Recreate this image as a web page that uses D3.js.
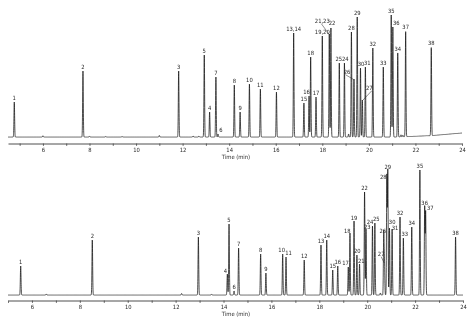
<!DOCTYPE html>
<html><head><meta charset="utf-8">
<script src="https://cdn.jsdelivr.net/npm/d3@7"></script>
<style>
html,body{margin:0;padding:0;background:#fff;}
svg{display:block;will-change:transform;}
text{font-family:"Liberation Sans Narrow","DejaVu Sans Condensed","Arial Narrow",sans-serif;fill:#2a2a2a;}
.labels{opacity:0.995;}
</style></head><body>
<svg id="chart" width="474" height="322"></svg>
<script>
// ---- Upper chromatogram ----
const topLabels  = ["1","2","3","5","4","7","6","8","9","10","11","12","13,14","15","16","18","17","19,20","21,23","22","25","24","28","26","29","30","27","31","32","33","35","36","34","37","38"];
const topTimes   = [4.77,7.72,11.83,12.93,13.16,13.43,13.52,14.22,14.47,14.87,15.34,16.03,16.77,17.21,17.43,17.50,17.73,18.00,18.30,18.37,18.73,18.95,19.25,19.36,19.50,19.64,19.72,19.85,20.17,20.62,20.96,21.03,21.24,21.58,22.68];
const topHeights = [35,66,66,82,25,60,3,52,25,53,48,45,104,34,41,80,40,101,103,109,74,74,105,58,120,69,37,70,89,70,122,110,84,105,88];
const topMinorTimes   = [6.0,8.0,8.7,9.4,11.0,12.45,12.7,19.13,21.38,21.46];
const topMinorHeights = [1.2,0.8,0.5,0.5,1.5,1.0,0.8,3,2,1.5];
const topBaseTimes  = [4.5,21.2,22.7,24];
const topBaseLevels = [0,0,1.4,4];

// ---- Lower chromatogram ----
const botLabels  = ["1","2","3","4","5","6","7","8","9","10","11","12","13","14","15","16","17","18","19","20","21","22","23","24","25","26","27","28","29","30","31","32","33","34","35","36","37","38"];
const botTimes   = [5.53,8.52,12.95,14.16,14.23,14.44,14.63,15.55,15.77,16.47,16.61,17.37,18.07,18.31,18.56,18.77,19.21,19.28,19.45,19.57,19.68,19.89,19.95,20.22,20.32,20.69,20.72,20.82,20.86,20.93,21.04,21.37,21.51,21.86,22.20,22.40,22.44,23.69];
const botHeights = [29,55,58,21,71,4,47,41,22,41,38,35,50,55,25,29,28,62,74,40,31,103,66,69,72,61,32,119,124,67,66,78,57,68,125,88,83,58];
const botMinorTimes   = [6.6,12.25,13.5,20.55];
const botMinorHeights = [1,1.5,0.8,2];
const botBaseTimes  = [5,24];
const botBaseLevels = [0,0];

// Axis ticks (minutes)
const tickMinutes = [5,6,7,8,9,10,11,12,13,14,15,16,17,18,19,20,21,22,23,24];
const tickLabelled = [6,8,10,12,14,16,18,20,22,24];
const axisTitle = "Time (min)";

// Label nudges and leader lines (layout only)
const topNudge = {"6":[3,0],"16":[-2.5,0],"21,23":[-7,-9],"22":[1.2,-1],"25":[-0.6,0],"24":[0.8,0],"26":[-7,-3],"27":[7,-8],"30":[0.5,0],"31":[2,0],"36":[3.5,0]};
const topLeaders = {"21,23":[[-3,1.5],[0,0]],"26":[[-3.5,-4],[-0.3,0]],"27":[[4.5,-8],[0.2,0]]};
const botNudge = {"4":[-2,1],"10":[-1,0],"11":[2.5,0],"17":[-2.8,0],"18":[-2.7,2.5],"19":[0,1],"20":[0.3,0],"21":[1.8,1],"23":[1.2,1.8],"24":[-2.4,0],"25":[1.4,0],"26":[-1,1],"27":[-3.3,-5],"28":[-3.5,5],"30":[2.7,-2],"31":[3,3.7],"33":[1.4,0],"37":[4.6,0]};
const botLeaders = {"27":[[-2,-3],[0,0]]};

const svg = d3.select("#chart");
const sigma = 0.014;

function drawPanel(cfg){
  const x = d3.scaleLinear().domain(cfg.domain).range([8, cfg.xEnd]);
  const y = d3.scaleLinear().domain([0,125]).range([cfg.base, cfg.base-125]);
  const baseline = d3.scaleLinear().domain(cfg.baseT).range(cfg.baseL);
  const peaks = cfg.times.map((t,i)=>({t, h:cfg.heights[i], label:cfg.labels[i]}));
  const minors = cfg.minorT.map((t,i)=>({t, h:cfg.minorH[i]}));
  const all = peaks.concat(minors);
  const step = 0.002;
  const n = Math.round((cfg.domain[1]-cfg.domain[0])/step);
  const pts = [];
  for(let k=0;k<=n;k++){
    const t = cfg.domain[0]+k*step;
    let v = baseline(t);
    for(const p of all){
      const d=(t-p.t)/sigma;
      if(Math.abs(d)<6) v += p.h*Math.exp(-0.5*d*d);
    }
    pts.push([t,v]);
  }
  const g = svg.append("g");
  g.append("path").datum(pts)
    .attr("fill","none").attr("stroke","#111").attr("stroke-width",0.75)
    .attr("stroke-linejoin","round")
    .attr("d", d3.line().x(d=>x(d[0])).y(d=>y(d[1])));

  // peak labels
  const lg = g.append("g").attr("class","labels");
  peaks.forEach(p=>{
    const px = x(p.t), py = y(p.h+baseline(p.t));
    const nd = cfg.nudge[p.label]||[0,0];
    const lx = px+nd[0], ly = py-2.3+nd[1];
    lg.append("text").attr("x",lx).attr("y",ly)
      .attr("text-anchor","middle").attr("font-size",5.8).text(p.label);
    const ld = cfg.leaders[p.label];
    if(ld){
      g.append("line")
        .attr("x1",lx+ld[0][0]+ (nd[0]>0? -2: 2)).attr("y1",ly+1)
        .attr("x2",px+ld[1][0]).attr("y2",py+0.5)
        .attr("stroke","#222").attr("stroke-width",0.5);
    }
  });

  // time axis
  const axis = d3.axisBottom(x).tickValues(tickMinutes).tickSize(2.5).tickSizeOuter(0)
    .tickFormat(d=>tickLabelled.includes(d)?String(d):"");
  const ax = g.append("g").attr("class","labels").attr("transform",`translate(0,${cfg.axisY})`).call(axis);
  ax.select(".domain").attr("stroke","#222").attr("stroke-width",0.8);
  ax.selectAll(".tick line").attr("stroke","#222").attr("stroke-width",0.6);
  ax.selectAll(".tick text").attr("font-size",5.8).attr("y",4.5)
    .style("font-family",'"Liberation Sans Narrow","DejaVu Sans Condensed",sans-serif').attr("fill","#2a2a2a");
  lg.append("text").attr("x",236).attr("y",cfg.axisY+15.5)
    .attr("text-anchor","middle").attr("font-size",5.8).text(axisTitle);
}

drawPanel({domain:[4.5,24], xEnd:462, base:137, axisY:143.5,
  times:topTimes, heights:topHeights, labels:topLabels,
  minorT:topMinorTimes, minorH:topMinorHeights,
  baseT:topBaseTimes, baseL:topBaseLevels,
  nudge:topNudge, leaders:topLeaders});

drawPanel({domain:[5,24], xEnd:463, base:295, axisY:300.5,
  times:botTimes, heights:botHeights, labels:botLabels,
  minorT:botMinorTimes, minorH:botMinorHeights,
  baseT:botBaseTimes, baseL:botBaseLevels,
  nudge:botNudge, leaders:botLeaders});
</script>
</body></html>
